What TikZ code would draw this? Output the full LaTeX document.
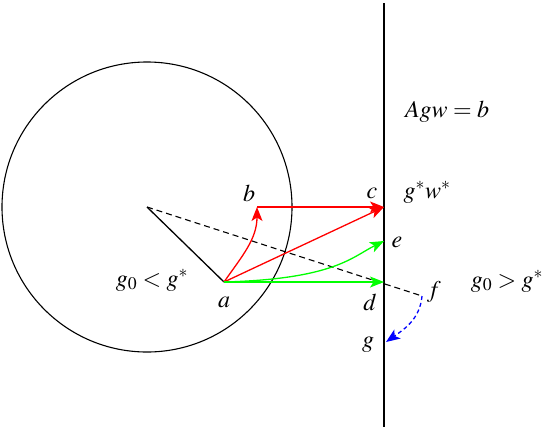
\documentclass[tikz,border=0pt]{standalone}
\usepackage{mathptmx}
\usetikzlibrary{arrows.meta,positioning}

\begin{document}
\begin{tikzpicture}[x=1pt, y=-1pt, font=\fontsize{24}{28}\selectfont,
    tip/.style = {-{Stealth[length=14pt, width=11pt, inset=3.5pt]}},
    link/.style = {line width=1.3pt},
    guide/.style = {dash pattern=on 6pt off 4pt, line width=1.1pt}]
    \useasboundingbox (0,0) rectangle (548,429);

    \coordinate (o) at (147,207);
    \coordinate (a) at (224,282);
    \coordinate (b) at (257,207);
    \coordinate (c) at (384,207);
    \coordinate (e) at (384,241);
    \coordinate (d) at (384,282);
    \coordinate (f) at (422,296);
    \coordinate (g) at (386,342);
    \coordinate (top) at (384,3);
    \coordinate (bottom) at (384,427);

    \draw[line width=1.1pt] (o) circle[radius=145];
    \draw[line width=1.5pt] (top) -- (bottom);

    \draw[link] (o) -- (a);
    \draw[guide] (o) -- (f);

    \draw[red, link, tip] (a) to[out=55, in=-90] (b);
    \draw[red, link, tip] (b) -- (c);
    \draw[red, link, tip] (a) -- (c);

    \draw[green, link, tip] (a) -- (d);
    \draw[green, link, tip] (a) .. controls +(110,-3) and +(-32,16) .. (e);

    \draw[blue, link, dash pattern=on 4pt off 3pt, tip] (f) to[out=-95, in=35] (g);

    \node at (249,193) {$b$};
    \node at (372,193) {$c$};
    \node at (224,302) {$a$};
    \node at (370,302) {$d$};
    \node at (397,242) {$e$};
    \node at (434,292) {$f$};
    \node at (368,345) {$g$};
    \node at (427,192) {$g^*w^*$};
    \node at (447,112) {$Agw = b$};
    \node at (152,280) {$g_0 < g^*$};
    \node at (507,281) {$g_0 > g^*$};
\end{tikzpicture}
\end{document}
